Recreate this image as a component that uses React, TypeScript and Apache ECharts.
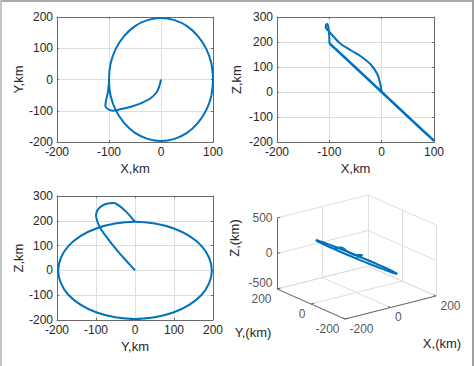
import React, { useEffect, useRef } from "react";
import * as echarts from "echarts";

// ---------- data (km) ----------
// transfer arc from the origin to the orbit
const arcX = [0, -3, -8, -20, -40, -60, -80, -92, -101, -107, -106, -104, -102, -101, -100, -100];
const arcY = [0, -20, -40, -60, -77, -88, -96, -100, -96, -85, -70, -55, -40, -25, -10, 0];
const arcZ = [0, 35, 70, 108, 143, 168, 195, 222, 243, 260, 270, 272, 260, 240, 215, 196];

// closed relative orbit (first point repeated at the end)
const orbitX = [100, 97, 87, 71, 50, 26, 0, -26, -50, -71, -87, -97, -100, -97, -87, -71, -50, -26, 0, 26, 50, 71, 87, 97, 100];
const orbitY = [0, 51, 98, 139, 171, 190, 197, 190, 171, 139, 98, 51, 0, -51, -98, -139, -171, -190, -197, -190, -171, -139, -98, -51, 0];
const orbitZ = [-196, -189, -170, -139, -98, -51, 0, 51, 98, 139, 170, 189, 196, 189, 170, 139, 98, 51, 0, -51, -98, -139, -170, -189, -196];

// axis ranges of the 2D views
const xyX = [-200, 100];
const xyY = [-200, 200];
const xzX = [-200, 100];
const xzZ = [-200, 300];
const yzY = [-200, 200];
const yzZ = [-200, 300];
const step2d = 100;

// 3D view ticks
const ticks3dX = [-200, 0, 200];
const ticks3dY = [-200, 0, 200];
const ticks3dZ = [-500, 0, 500];

// ---------- layout / style ----------
const W = 474;
const H = 366;
const FONT = '"Liberation Sans", Arial, Helvetica, sans-serif';
const LINE = "#0072BD";
const AXC = "#6a6a6a";
const GRC = "#dedede";
const TXT = "#262626";

const GRIDS = [
  { left: 57, top: 17, width: 156, height: 125 },
  { left: 277, top: 17, width: 157, height: 125 },
  { left: 57, top: 196, width: 156, height: 124 },
];

// 3D projection: origin corner and edge vectors in pixels
const P3 = { ox: 345, oy: 319, ex: [91, -23], ey: [-68, -30], ez: [0, -71] };

function pairs(a: number[], b: number[]) {
  return a.map((v, i) => [v, b[i]]);
}
function wrap(p: number[][]) {
  const n = p.length;
  return [p[n - 2], ...p, p[1]];
}

const xmin = ticks3dX[0], xmax = ticks3dX[ticks3dX.length - 1];
const ymin = ticks3dY[0], ymax = ticks3dY[ticks3dY.length - 1];
const zmin = ticks3dZ[0], zmax = ticks3dZ[ticks3dZ.length - 1];

function proj(x: number, y: number, z: number) {
  const u = (x - xmin) / (xmax - xmin);
  const v = (y - ymin) / (ymax - ymin);
  const w = (z - zmin) / (zmax - zmin);
  return [
    P3.ox + u * P3.ex[0] + v * P3.ey[0] + w * P3.ez[0],
    P3.oy + u * P3.ex[1] + v * P3.ey[1] + w * P3.ez[1],
  ];
}

function seg(a: number[], b: number[]) {
  return { coords: [proj(a[0], a[1], a[2]), proj(b[0], b[1], b[2])] };
}

function build3d() {
  const grid: any[] = [];
  // back wall y = ymax
  ticks3dX.forEach((x) => grid.push(seg([x, ymax, zmin], [x, ymax, zmax])));
  ticks3dZ.forEach((z) => grid.push(seg([xmin, ymax, z], [xmax, ymax, z])));
  // side wall x = xmax
  ticks3dY.forEach((y) => grid.push(seg([xmax, y, zmin], [xmax, y, zmax])));
  ticks3dZ.forEach((z) => grid.push(seg([xmax, ymin, z], [xmax, ymax, z])));
  // floor z = zmin
  ticks3dX.forEach((x) => grid.push(seg([x, ymin, zmin], [x, ymax, zmin])));
  ticks3dY.forEach((y) => grid.push(seg([xmin, y, zmin], [xmax, y, zmin])));

  const axes: any[] = [];
  axes.push(seg([xmin, ymax, zmin], [xmin, ymax, zmax]));
  axes.push(seg([xmin, ymin, zmin], [xmax, ymin, zmin]));
  axes.push(seg([xmin, ymin, zmin], [xmin, ymax, zmin]));
  const tl = 0.035;
  ticks3dZ.forEach((z) => axes.push(seg([xmin, ymax, z], [xmin + tl * (xmax - xmin), ymax, z])));
  ticks3dX.forEach((x) => axes.push(seg([x, ymin, zmin], [x, ymin + tl * (ymax - ymin), zmin])));
  ticks3dY.forEach((y) => axes.push(seg([xmin, y, zmin], [xmin + tl * (xmax - xmin), y, zmin])));

  const labels: any[] = [];
  ticks3dZ.forEach((z) => {
    const p = proj(xmin, ymax, z);
    labels.push({ name: String(z), value: [p[0] - 4, p[1] - (z === zmin ? 6 : 0)], label: { align: "right" } });
  });
  ticks3dY.forEach((y) => {
    const p = proj(xmin, y, zmin);
    labels.push({ name: String(y), value: [p[0] - 5, p[1] + 10], label: { align: "right" } });
  });
  ticks3dX.forEach((x) => {
    const p = proj(x, ymin, zmin);
    labels.push({ name: String(x), value: [p[0] + 5, p[1] + 10], label: { align: "left" } });
  });

  const arc3 = arcX.map((x, i) => proj(x, arcY[i], arcZ[i]));
  const orb3 = orbitX.map((x, i) => proj(x, orbitY[i], orbitZ[i]));
  return { grid, axes, labels, arc3, orb3 };
}

function xAxisFor(gi: number, range: number[], name: string, gap: number) {
  const base = {
    type: "value",
    gridIndex: gi,
    min: range[0],
    max: range[1],
    interval: step2d,
    axisLine: { show: true, onZero: false, lineStyle: { color: AXC, width: 1 } },
    axisTick: { show: true, inside: true, length: 2, lineStyle: { color: AXC } },
  };
  return [
    {
      ...base,
      position: "bottom",
      name,
      nameLocation: "middle",
      nameGap: gap,
      nameTextStyle: { color: TXT, fontSize: 13, fontFamily: FONT },
      axisLabel: { show: true, color: TXT, fontSize: 12, fontFamily: FONT, margin: 4 },
      splitLine: { show: true, lineStyle: { color: GRC, width: 1 } },
    },
    { ...base, position: "top", axisLabel: { show: false }, splitLine: { show: false } },
  ];
}

function yAxisFor(gi: number, range: number[], name: string, gap: number) {
  const base = {
    type: "value",
    gridIndex: gi,
    min: range[0],
    max: range[1],
    interval: step2d,
    axisLine: { show: true, onZero: false, lineStyle: { color: AXC, width: 1 } },
    axisTick: { show: true, inside: true, length: 2, lineStyle: { color: AXC } },
  };
  return [
    {
      ...base,
      position: "left",
      name,
      nameLocation: "middle",
      nameGap: gap,
      nameTextStyle: { color: TXT, fontSize: 13, fontFamily: FONT },
      axisLabel: { show: true, color: TXT, fontSize: 12, fontFamily: FONT, margin: 4 },
      splitLine: { show: true, lineStyle: { color: GRC, width: 1 } },
    },
    { ...base, position: "right", axisLabel: { show: false }, splitLine: { show: false } },
  ];
}

function lineSeries(xi: number, data: number[][], width: number) {
  return {
    type: "line",
    xAxisIndex: xi,
    yAxisIndex: xi,
    data,
    smooth: 0.35,
    showSymbol: false,
    symbol: "none",
    silent: true,
    lineStyle: { color: LINE, width },
  };
}

export default function App() {
  const ref = useRef<HTMLDivElement>(null);

  useEffect(() => {
    if (!ref.current) return;
    const chart = echarts.init(ref.current, undefined, { renderer: "svg" });
    const d3 = build3d();

    const option: any = {
      animation: false,
      backgroundColor: "#ffffff",
      grid: [
        ...GRIDS.map((g) => ({ ...g, containLabel: false })),
        { left: 0, top: 0, width: W, height: H },
      ],
      xAxis: [
        ...xAxisFor(0, xyX, "X,km", 20),
        ...xAxisFor(1, xzX, "X,km", 20),
        ...xAxisFor(2, yzY, "Y,km", 20),
        { type: "value", gridIndex: 3, min: 0, max: W, show: false },
      ],
      yAxis: [
        ...yAxisFor(0, xyY, "Y,km", 31),
        ...yAxisFor(1, xzZ, "Z,km", 34),
        ...yAxisFor(2, yzZ, "Z,km", 24),
        { type: "value", gridIndex: 3, min: 0, max: H, inverse: true, show: false },
      ],
      series: [
        lineSeries(0, pairs(arcX, arcY), 2),
        lineSeries(0, wrap(pairs(orbitX, orbitY)), 2),
        lineSeries(2, pairs(arcX, arcZ), 2),
        lineSeries(2, wrap(pairs(orbitX, orbitZ)), 2.6),
        lineSeries(4, pairs(arcY, arcZ), 2),
        lineSeries(4, wrap(pairs(orbitY, orbitZ)), 2),
        {
          type: "lines",
          coordinateSystem: "cartesian2d",
          xAxisIndex: 6,
          yAxisIndex: 6,
          silent: true,
          data: d3.grid,
          lineStyle: { color: GRC, width: 1, opacity: 1 },
        },
        {
          type: "lines",
          coordinateSystem: "cartesian2d",
          xAxisIndex: 6,
          yAxisIndex: 6,
          silent: true,
          data: d3.axes,
          lineStyle: { color: AXC, width: 1, opacity: 1 },
        },
        lineSeries(6, d3.arc3, 2),
        lineSeries(6, wrap(d3.orb3), 2),
        {
          type: "scatter",
          xAxisIndex: 6,
          yAxisIndex: 6,
          silent: true,
          symbolSize: 1,
          itemStyle: { color: "rgba(0,0,0,0)" },
          data: d3.labels,
          label: {
            show: true,
            formatter: "{b}",
            position: [0, 0],
            verticalAlign: "middle",
            color: TXT,
            fontSize: 12,
            fontFamily: FONT,
          },
        },
      ],
      graphic: [
        { type: "rect", shape: { x: 0, y: 0, width: W, height: 2 }, style: { fill: "#a9a9a9" }, silent: true },
        { type: "rect", shape: { x: 0, y: 0, width: 2, height: H }, style: { fill: "#c4c4c4" }, silent: true },
        { type: "rect", shape: { x: W - 2, y: 0, width: 2, height: H }, style: { fill: "#a0a0a0" }, silent: true },
        {
          type: "text",
          x: 234,
          y: 238,
          rotation: Math.PI / 2,
          silent: true,
          style: { text: "Z,(km)", fontSize: 13, fontFamily: FONT, fill: TXT, align: "center", verticalAlign: "middle" },
        },
        {
          type: "text",
          x: 253,
          y: 332,
          silent: true,
          style: { text: "Y,(km)", fontSize: 13, fontFamily: FONT, fill: TXT, align: "center", verticalAlign: "middle" },
        },
        {
          type: "text",
          x: 442,
          y: 343,
          silent: true,
          style: { text: "X,(km)", fontSize: 13, fontFamily: FONT, fill: TXT, align: "center", verticalAlign: "middle" },
        },
      ],
    };

    chart.setOption(option);
    return () => chart.dispose();
  }, []);

  return (
    <div
      ref={ref}
      style={{ position: "absolute", left: 0, top: 0, width: W, height: H }}
    />
  );
}
